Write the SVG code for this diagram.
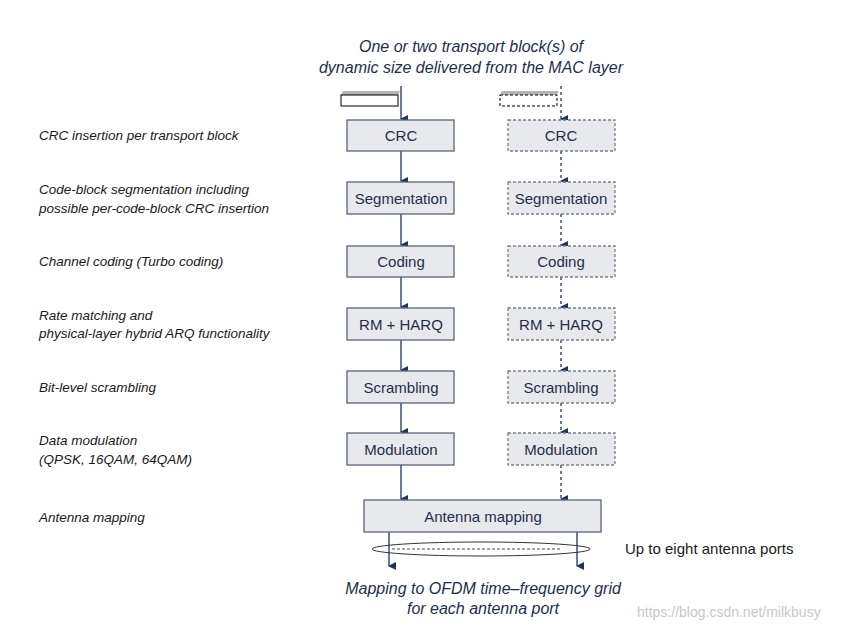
<svg xmlns="http://www.w3.org/2000/svg" width="854" height="631" viewBox="0 0 854 631">
<style>
text{font-family:"Liberation Sans",Arial,sans-serif;}
.lab{font-size:13.5px;font-style:italic;fill:#1a1a1a}
.box{fill:#e8e9ec;stroke:#5a6578;stroke-width:1.3}
.dbox{fill:#e8e9ec;stroke:#7a808a;stroke-width:1.3;stroke-dasharray:3,2}
.bt{font-size:15px;fill:#1f2f4a;text-anchor:middle}
.ln{stroke:#1f3556;stroke-width:1.3;fill:none}
.dl{stroke:#1f3556;stroke-width:1.3;fill:none;stroke-dasharray:3,3}
</style>
<defs><marker id="a" markerWidth="8" markerHeight="8" refX="4" refY="7" orient="auto" markerUnits="userSpaceOnUse"><path d="M0,0L8,0L4,8z" fill="#1f3556"/></marker></defs>
<rect width="854" height="631" fill="#fff"/>
<text x="471" y="52" font-size="16" font-style="italic" text-anchor="middle" fill="#1f2f4a">One or two transport block(s) of</text>
<text x="471" y="73" font-size="16" font-style="italic" text-anchor="middle" fill="#1f2f4a">dynamic size delivered from the MAC layer</text>
<g id="labels">
<text class="lab" x="39" y="140">CRC insertion per transport block</text>
<text class="lab" x="39" y="194">Code-block segmentation including</text>
<text class="lab" x="39" y="213">possible per-code-block CRC insertion</text>
<text class="lab" x="39" y="266">Channel coding (Turbo coding)</text>
<text class="lab" x="39" y="320">Rate matching and</text>
<text class="lab" x="39" y="338">physical-layer hybrid ARQ functionality</text>
<text class="lab" x="39" y="392">Bit-level scrambling</text>
<text class="lab" x="39" y="445">Data modulation</text>
<text class="lab" x="39" y="464">(QPSK, 16QAM, 64QAM)</text>
<text class="lab" x="39" y="522">Antenna mapping</text>
</g>
<g id="tb1"><path d="M341,95 L343,91 L400,91 L398,95Z" fill="#b5b5b5"/><rect x="341" y="95" width="57" height="11" fill="#fff" stroke="#000" stroke-width="1"/></g>
<g id="tb2"><path d="M500,95 L502,91 L559,91 L557,95Z" fill="#b5b5b5"/><rect x="500" y="95" width="57" height="11" fill="#fff" stroke="#000" stroke-width="1" stroke-dasharray="3,2"/></g>
<g id="connectors">
<line class="ln" x1="401" y1="86" x2="401" y2="119" marker-end="url(#a)"/>
<line class="ln" x1="401" y1="151" x2="401" y2="181" marker-end="url(#a)"/>
<line class="ln" x1="401" y1="214" x2="401" y2="245" marker-end="url(#a)"/>
<line class="ln" x1="401" y1="277" x2="401" y2="307" marker-end="url(#a)"/>
<line class="ln" x1="401" y1="340" x2="401" y2="370" marker-end="url(#a)"/>
<line class="ln" x1="401" y1="403" x2="401" y2="432" marker-end="url(#a)"/>
<line class="ln" x1="401" y1="465" x2="401" y2="499" marker-end="url(#a)"/>
<line class="dl" x1="561" y1="86" x2="561" y2="119" marker-end="url(#a)"/>
<line class="dl" x1="561" y1="151" x2="561" y2="181" marker-end="url(#a)"/>
<line class="dl" x1="561" y1="214" x2="561" y2="245" marker-end="url(#a)"/>
<line class="dl" x1="561" y1="277" x2="561" y2="307" marker-end="url(#a)"/>
<line class="dl" x1="561" y1="340" x2="561" y2="370" marker-end="url(#a)"/>
<line class="dl" x1="561" y1="403" x2="561" y2="432" marker-end="url(#a)"/>
<line class="dl" x1="561" y1="465" x2="561" y2="499" marker-end="url(#a)"/>
<line class="ln" x1="389" y1="532" x2="389" y2="566" marker-end="url(#a)"/>
<line class="ln" x1="577" y1="532" x2="577" y2="566" marker-end="url(#a)"/>
</g>
<g id="ports"><ellipse cx="481" cy="549" rx="109" ry="7" fill="none" stroke="#333" stroke-width="1"/><line x1="392" y1="549" x2="562" y2="549" stroke="#333" stroke-width="0.9" stroke-dasharray="3,2"/>
<text x="625" y="554" font-size="15" fill="#1a1a1a">Up to eight antenna ports</text></g>
<g id="n-crc1"><rect class="box" x="347" y="120" width="107" height="31"/><text class="bt" x="401" y="141">CRC</text></g>
<g id="n-seg1"><rect class="box" x="347" y="182" width="107" height="32"/><text class="bt" x="401" y="204">Segmentation</text></g>
<g id="n-cod1"><rect class="box" x="347" y="246" width="107" height="31"/><text class="bt" x="401" y="267">Coding</text></g>
<g id="n-rm1"><rect class="box" x="347" y="308" width="107" height="32"/><text class="bt" x="401" y="330">RM + HARQ</text></g>
<g id="n-scr1"><rect class="box" x="347" y="371" width="107" height="32"/><text class="bt" x="401" y="393">Scrambling</text></g>
<g id="n-mod1"><rect class="box" x="347" y="433" width="107" height="32"/><text class="bt" x="401" y="455">Modulation</text></g>
<g id="n-crc2"><rect class="dbox" x="508" y="120" width="107" height="31"/><text class="bt" x="561" y="141">CRC</text></g>
<g id="n-seg2"><rect class="dbox" x="508" y="182" width="107" height="32"/><text class="bt" x="561" y="204">Segmentation</text></g>
<g id="n-cod2"><rect class="dbox" x="508" y="246" width="107" height="31"/><text class="bt" x="561" y="267">Coding</text></g>
<g id="n-rm2"><rect class="dbox" x="508" y="308" width="107" height="32"/><text class="bt" x="561" y="330">RM + HARQ</text></g>
<g id="n-scr2"><rect class="dbox" x="508" y="371" width="107" height="32"/><text class="bt" x="561" y="393">Scrambling</text></g>
<g id="n-mod2"><rect class="dbox" x="508" y="433" width="107" height="32"/><text class="bt" x="561" y="455">Modulation</text></g>
<g id="n-ant"><rect class="box" x="364" y="500" width="237" height="32"/><text class="bt" x="483" y="522">Antenna mapping</text></g>
<text x="483" y="594" font-size="16" font-style="italic" text-anchor="middle" fill="#1f2f4a">Mapping to OFDM time–frequency grid</text>
<text x="483" y="614" font-size="16" font-style="italic" text-anchor="middle" fill="#1f2f4a">for each antenna port</text>
<text x="637" y="617" font-size="14" fill="#c8c8c8">https://blog.csdn.net/milkbusy</text>
</svg>
